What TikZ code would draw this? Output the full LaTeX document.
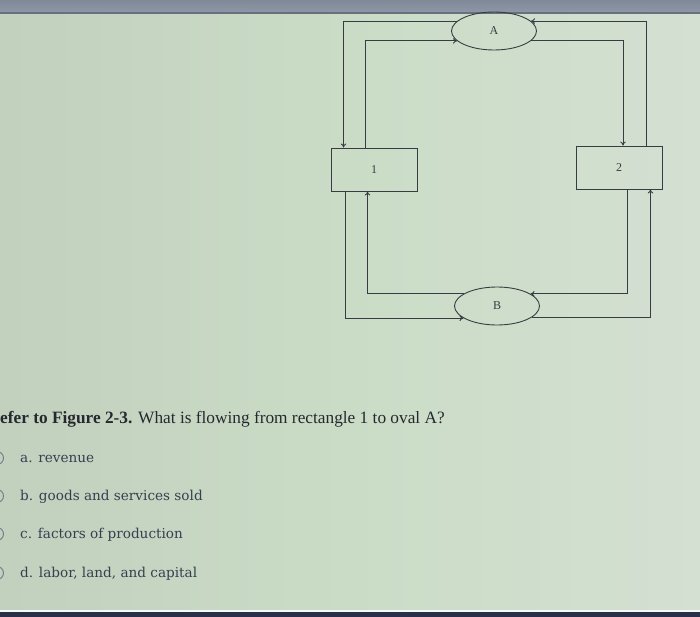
\documentclass[tikz,border=0pt]{standalone}
\usepackage{fontspec}
\setmainfont{Liberation Serif}
\newfontfamily\optfont{DejaVu Serif}
\usetikzlibrary{shapes.geometric,arrows.meta}
\definecolor{bgl}{HTML}{C2D0BE}
\definecolor{bgm}{HTML}{CADCC6}
\definecolor{bgr}{HTML}{D4E0D2}
\definecolor{topband}{HTML}{8E98A8}
\definecolor{topline}{HTML}{687080}
\definecolor{botband}{HTML}{283149}
\definecolor{ink}{HTML}{383C42}
\definecolor{qtext}{HTML}{26282F}
\definecolor{otext}{HTML}{363E50}
\tikzset{
  box/.style={draw=ink, line width=0.9pt, minimum width=86pt, minimum height=43pt, inner sep=0pt, font=\fontsize{12}{14}\selectfont, text=ink},
  oval/.style={ellipse, draw=ink, line width=0.9pt, minimum width=85pt, minimum height=38pt, inner sep=0pt, font=\fontsize{12}{14}\selectfont, text=ink},
  flow/.style={draw=ink, line width=0.9pt, -{To[length=4pt,width=5.5pt]}},
  question/.style={anchor=base west, inner sep=0pt, text=qtext, font=\fontsize{17.3}{20}\selectfont},
  option/.style={anchor=base west, inner sep=0pt, text=otext, font=\optfont\fontsize{13.6}{16}\selectfont},
  radio/.style={draw=otext!70, line width=0.9pt}
}
\begin{document}
\begin{tikzpicture}[x=1pt,y=-1pt]
\useasboundingbox (0,0) rectangle (700,617);
% background
\shade[left color=bgl, right color=bgr, middle color=bgm] (0,0) rectangle (700,617);
\shade[top color=topband!90!black, bottom color=topband] (0,0) rectangle (700,13);
\fill[topline] (0,12.5) rectangle (700,14);
\fill[white!80!bgr] (0,609.5) rectangle (700,611.5);
\fill[botband] (0,611.5) rectangle (700,617);
% nodes
\node[oval] (A) at (494,31) {A};
\node[oval] (B) at (497,306) {B};
\node[box] (r1) at (374,169.5) {1};
\node[box] (r2) at (619,167.5) {2};
% connectors
\draw[flow] (A.165) -| ([xshift=13pt]r1.north west);
\draw[flow] ([xshift=35pt]r1.north west) |- (A.195);
\draw[flow] ([xshift=-16pt]r2.north east) |- (A.15);
\draw[flow] (A.-15) -| ([xshift=4pt]r2.north);
\draw[flow] ([xshift=15pt]r1.south west) |- (B.200);
\draw[flow] (B.160) -| ([xshift=37pt]r1.south west);
\draw[flow] ([xshift=8pt]r2.south) |- (B.20);
\draw[flow] (B.-18) -| ([xshift=-12pt]r2.south east);
% question
\node[question] (q) at (0,423) {\textbf{efer to Figure 2-3.} What is flowing from rectangle 1 to oval A?};
% options
\draw[radio] (-3,458) circle (6.5);
\draw[radio] (-3,496) circle (6.5);
\draw[radio] (-3,534) circle (6.5);
\draw[radio] (-3,573) circle (6.5);
\node[option] (oa) at (20,462) {a. revenue};
\node[option] (ob) at (20,500) {b. goods and services sold};
\node[option] (oc) at (20,538) {c. factors of production};
\node[option] (od) at (20,577) {d. labor, land, and capital};
\end{tikzpicture}
\end{document}
